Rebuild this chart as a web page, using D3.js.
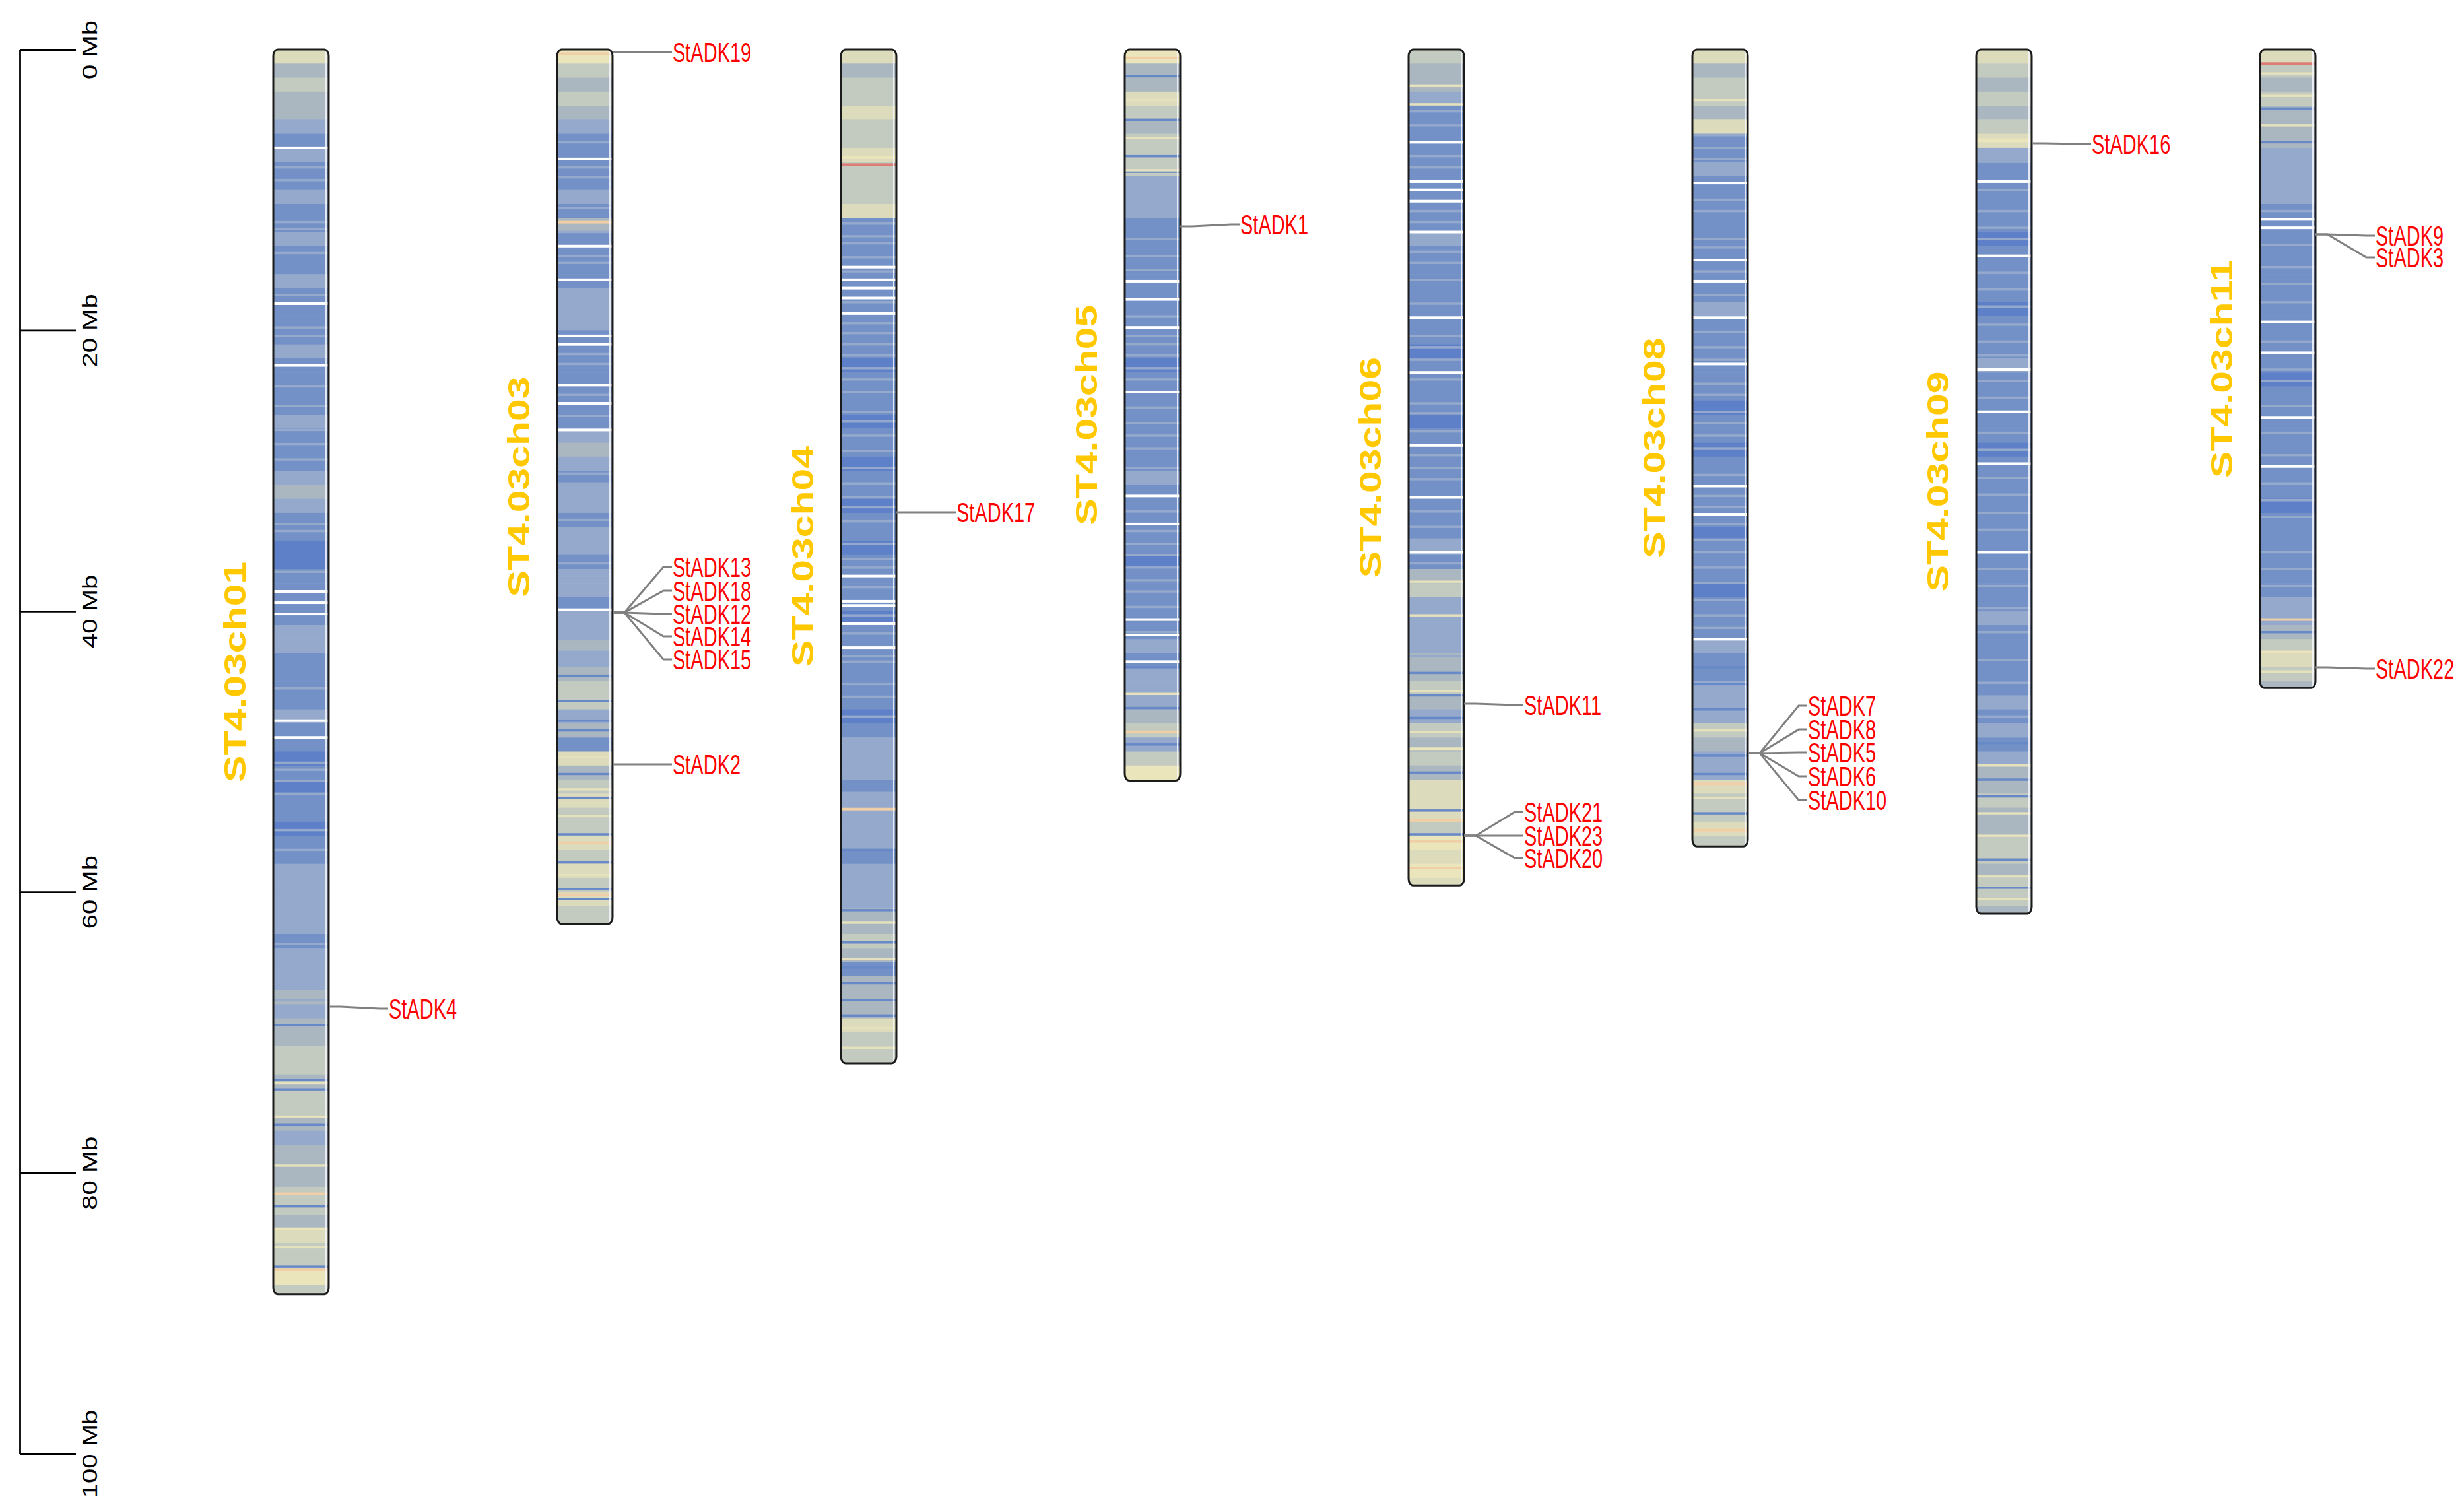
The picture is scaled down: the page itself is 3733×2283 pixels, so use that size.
<!DOCTYPE html>
<html><head><meta charset="utf-8">
<script src="https://cdn.jsdelivr.net/npm/d3@7"></script>
<style>html,body{margin:0;padding:0;background:#fff;overflow:hidden}</style>
</head><body><svg id="chart"></svg>
<script>
// ---------------- DATA ----------------
const chromNames   = ["ST4.03ch01","ST4.03ch03","ST4.03ch04","ST4.03ch05","ST4.03ch06","ST4.03ch08","ST4.03ch09","ST4.03ch11"];
const chromLengths = [88.66, 62.29, 72.21, 52.07, 59.53, 56.76, 61.54, 45.48]; // Mb
const axisTicks    = [0, 20, 40, 60, 80, 100]; // Mb

// gene density per 1 Mb bin (1 = low / blue ... 9 = high / red)
const density01 = [6,4,5,4,4,3,2,3,2,2,3,2,2,3,2,2,3,2,2,2,2,3,2,2,2,2,3,2,2,2,3,4,3,2,2,1,1,2,2,2,2,3,3,2,2,2,2,3,2,2,1,2,1,2,2,1,2,2,3,3,3,3,3,2,3,3,3,4,3,4,4,5,5,4,5,5,4,3,4,4,4,5,5,4,6,5,5,7,5];
const density03 = [7,5,4,5,4,3,2,2,2,2,3,2,4,2,2,2,2,3,3,3,2,2,2,2,2,2,2,3,4,3,2,3,3,2,3,3,2,3,3,2,3,3,4,3,4,5,5,3,4,2,6,4,5,6,5,5,6,5,6,5,6,5,5];
const density04 = [6,4,5,5,6,5,5,6,5,5,5,6,2,2,2,2,2,2,2,2,2,2,1,2,2,2,1,2,2,1,2,2,1,2,2,1,2,2,2,2,1,2,2,2,2,2,2,1,2,3,3,3,2,3,3,3,3,2,3,3,3,4,4,5,4,2,4,4,4,6,5,5,5];
const density05 = [7,4,4,6,5,4,5,5,5,3,3,3,2,2,2,2,2,2,2,2,2,2,1,2,2,2,2,2,2,2,3,2,2,2,2,2,1,2,2,2,2,2,3,2,3,3,3,4,5,3,5,7,7];
const density06 = [5,4,4,3,2,2,2,2,2,2,2,2,2,3,2,2,2,2,2,2,2,1,2,2,2,2,1,2,2,2,2,2,2,2,2,3,2,4,5,3,3,3,3,4,4,5,4,3,5,4,5,4,6,6,6,5,7,6,7,6];
const density08 = [6,4,5,5,4,6,2,2,3,2,2,2,2,2,2,2,2,2,3,2,2,2,2,2,2,1,2,2,1,2,2,2,2,2,1,2,2,2,1,2,2,2,3,2,2,3,3,3,5,4,3,3,6,5,5,6,5];
const density09 = [6,5,4,5,4,5,6,3,2,2,2,2,2,1,2,2,2,2,1,2,2,2,3,2,2,2,2,2,1,2,2,2,2,2,2,2,2,2,2,2,3,2,2,2,2,2,3,2,3,2,3,4,4,5,4,4,5,5,4,5,5,4];
const density11 = [6,5,4,5,4,4,4,3,3,3,3,2,2,2,2,2,2,2,2,2,2,2,2,1,2,2,2,2,2,2,2,2,1,2,2,2,2,2,2,3,3,4,5,6,5,4];
const densityBins = [density01, density03, density04, density05, density06, density08, density09, density11];

// thin sub-bin stripes (Mb)
const lightStripes = [
  [8.4,9.3,10.5,12.3,12.8,14.5,16.1,17.5,19.8,20.4,21.8,24.0,25.4,26.2,27.1,28.1,29.2,30.2,32.3,33.8,34.3,37.2,41.5,42.4,45.5,50.8,51.3,52.1,53.0,55.6,57.0,58.5,59.9,61.5,62.6,63.7,64.5,65.4,66.5,67.7],
  [5.8,6.6,8.4,9.1,10.4,11.3,13.0,14.7,15.2,17.1,17.8,19.0,19.5,21.7,22.4,24.6,26.1,29.2,30.2,30.9,32.3,33.5,34.6,35.6,36.6,37.6,38.6,41.2,42.0,42.9],
  [12.4,13.3,13.8,14.8,15.8,18.0,19.5,20.2,21.0,21.8,22.7,23.5,24.4,25.8,26.5,27.5,28.6,29.8,30.9,31.9,32.6,33.6,35.2,36.3,36.9,38.3,40.3,41.6,43.2,43.6,45.2,46.1,47.5,49.2,50.4,51.7,52.95,55.0,55.9,56.7,58.5,59.3,60.5,61.1],
  [9.3,10.1,11.0,11.5,13.5,14.7,15.7,19.0,20.4,21.0,21.8,22.7,23.5,25.5,26.6,27.5,28.4,29.8,30.6,32.9,34.3,35.2,36.0,36.9,37.8,38.6,39.7,41.5,42.6],
  [4.4,5.4,7.6,8.4,11.5,12.3,14.4,15.2,16.4,18.1,20.4,21.2,22.1,23.5,25.2,25.9,27.2,28.9,29.8,30.6,32.9,34.0,34.9,36.6,41.2,42.3,43.2],
  [6.1,7.0,7.8,8.7,10.7,11.5,13.5,14.1,15.8,17.5,18.4,20.1,21.2,22.1,23.8,24.6,25.8,26.6,27.5,28.4,30.3,31.8,32.6,33.8,34.9,35.8,36.9,38.0,39.2,40.3,41.2,42.9],
  [8.0,10.0,11.5,12.7,13.5,15.9,17.1,18.3,19.6,20.8,21.8,23.6,24.8,27.3,28.5,30.5,31.7,33.0,34.2,37.0,38.2,39.8,41.5,43.5,45.1,46.3,47.5],
  [11.5,13.9,15.5,16.7,18.0,20.8,22.8,23.6,25.4,27.3,28.9,30.9,32.1,33.3,35.8,37.0,38.2,39.4]
];
const darkStripes = [
  [69.5,73.4,74.1,76.6,82.4,86.7],
  [44.6,46.4,47.8,48.5,51.6,53.3,55.9,57.9,59.8,60.5],
  [57.0,61.3,63.6,65.4,66.5,67.7,68.8],
  [1.9,5.0,7.6,8.7,44.0,46.9,49.5],
  [44.4,46.0,47.6,51.5,54.2,55.9],
  [44.0,45.2,47.0,50.3,51.6,54.4],
  [49.4,52.0,53.2,57.7,59.7],
  [4.2,6.6,41.5]
];
const paleStripes = [
  [73.6,76.0,79.5,85.3],
  [50.4,52.7,54.6,58.8],
  [62.2,64.8,69.7,71.1],
  [3.6,6.3,8.6,45.9],
  [2.6,3.9,37.9,40.3,45.7,48.6],
  [3.6,48.5,53.3],
  [6.4,51.0,54.4,56.0,58.9,60.5],
  [1.7,3.3,5.4,44.3]
];
// thin empty (white) bins, Mb
const emptyLines = [
  [7.0,18.1,22.5,38.6,39.4,40.2,47.8,49.0],
  [7.8,14.0,16.4,20.4,21.0,23.9,25.2,27.1,39.9],
  [15.5,16.4,17.0,17.7,18.8,37.5,39.3,39.6,40.9,42.6],
  [16.5,17.8,19.8,24.4,31.8,33.8,40.6,41.7,43.6],
  [6.6,9.4,10.0,10.8,13.0,19.1,23.0,28.2,31.9,35.8],
  [9.5,15.0,16.5,19.1,22.4,31.1,33.1,42.0],
  [9.4,14.7,22.8,25.8,29.5,35.8],
  [12.1,12.7,19.4,21.6,26.2,29.7]
];
// thin high-density bins [Mb, level]
const hotLines = [
  [[81.5,8],[84.0,7],[86.9,8]],
  [[0.3,8],[12.3,8],[56.5,8],[60.2,8]],
  [[7.7,7],[8.2,9],[54.1,8]],
  [[0.6,8],[48.6,8]],
  [[49.8,7],[54.9,8],[56.4,8],[58.3,8]],
  [[52.3,8],[55.6,8]],
  [[6.5,7]],
  [[1.0,9],[40.6,8],[42.9,7]]
];

// genes
const geneNames    = ["StADK4","StADK19","StADK13","StADK18","StADK12","StADK14","StADK15","StADK2","StADK17","StADK1","StADK11","StADK21","StADK23","StADK20","StADK7","StADK8","StADK5","StADK6","StADK10","StADK16","StADK9","StADK3","StADK22"];
const geneChroms   = ["ST4.03ch01","ST4.03ch03","ST4.03ch03","ST4.03ch03","ST4.03ch03","ST4.03ch03","ST4.03ch03","ST4.03ch03","ST4.03ch04","ST4.03ch05","ST4.03ch06","ST4.03ch06","ST4.03ch06","ST4.03ch06","ST4.03ch08","ST4.03ch08","ST4.03ch08","ST4.03ch08","ST4.03ch08","ST4.03ch09","ST4.03ch11","ST4.03ch11","ST4.03ch11"];
const genePos      = [68.17,0.19,40.1,40.1,40.1,40.1,40.1,50.92,32.96,12.6,46.59,56.0,56.0,56.0,50.12,50.12,50.12,50.12,50.12,6.68,13.16,13.16,44.0];
const geneLabelPos = [68.31,0.19,36.86,38.55,40.2,41.8,43.44,50.92,32.96,12.46,46.69,54.3,56.0,57.59,46.73,48.43,50.07,51.76,53.46,6.72,13.26,14.81,44.1];

const densityColors = ["#5d80c9","#7391c7","#94a9cc","#aab6c0","#c3cabf","#dcdcbd","#ebe5bb","#f0cfa6","#dc7c74"];

// ---------------- DRAW ----------------
const W = 3733, H = 2283;
const svg = d3.select("#chart").attr("width", W).attr("height", H)
  .style("font-family", "'Liberation Sans', Arial, sans-serif");
svg.append("rect").attr("width", W).attr("height", H).attr("fill", "#fff");

const y = d3.scaleLinear().domain([0, 100]).range([75, 2202]);
const x = d3.scaleBand().domain(chromNames).range([414, 3508]).paddingInner(0.8047).paddingOuter(0);
const bw = x.bandwidth();
const color = d3.scaleLinear().domain(d3.range(1, 10)).range(densityColors).clamp(true);
const fillOf = v => v === 0 ? "#ffffff" : color(v);

// axis
const axis = d3.axisRight(y).tickValues(axisTicks).tickSize(85).tickSizeOuter(0).tickFormat(d => d + " Mb");
const ag = svg.append("g").attr("transform", "translate(30,0)").call(axis);
ag.select(".domain").attr("stroke", "#000").attr("stroke-width", 2.8);
ag.selectAll(".tick line").attr("stroke", "#000").attr("stroke-width", 2.8);
ag.selectAll(".tick text")
  .attr("x", null)
  .attr("transform", "translate(106,0) scale(1,1.25) rotate(-90)")
  .attr("text-anchor", "middle").attr("dy", "0.358em")
  .attr("fill", "#000").attr("font-size", 32)
  .attr("font-family", "'Liberation Sans', Arial, sans-serif");

// chromosomes
const defs = svg.append("defs");
chromNames.forEach((name, i) => {
  const len = chromLengths[i];
  const g = svg.append("g").attr("transform", `translate(${x(name)},0)`);
  const top = y(0), bot = y(len);
  const cid = "clip" + i;
  defs.append("clipPath").attr("id", cid).append("rect")
    .attr("x", 0).attr("y", top).attr("width", bw).attr("height", bot - top).attr("rx", 7).attr("ry", 10);
  const cg = g.append("g").attr("clip-path", `url(#${cid})`);
  cg.selectAll("rect.bin").data(densityBins[i]).join("rect").attr("class", "bin")
    .attr("x", 0).attr("width", bw)
    .attr("y", (d, j) => y(j))
    .attr("height", (d, j) => y(Math.min(j + 1, len)) - y(j) + 0.6)
    .attr("fill", d => fillOf(d));
  const stripe = (cls, data, pos, lev, h) =>
    cg.selectAll("rect." + cls).data(data).join("rect").attr("class", cls)
      .attr("x", 0).attr("width", bw)
      .attr("y", d => y(pos(d)) - h / 2).attr("height", h)
      .attr("fill", d => fillOf(lev(d)));
  stripe("light", lightStripes[i], d => d, d => 3, 3.5);
  stripe("dark", darkStripes[i], d => d, d => 1.5, 3.5);
  stripe("pale", paleStripes[i], d => d, d => 6.5, 3.5);
  stripe("hot", hotLines[i], d => d[0], d => d[1], 4);
  stripe("empty", emptyLines[i], d => d, d => 0, 4);
  // thin inner light edge on right
  cg.append("rect").attr("x", bw - 5).attr("y", top).attr("width", 2).attr("height", bot - top).attr("fill", "#f4f6fa").attr("opacity", 0.85);
  g.append("rect").attr("x", 0).attr("y", top).attr("width", bw).attr("height", bot - top)
    .attr("rx", 7).attr("ry", 10).attr("fill", "none").attr("stroke", "#1b1b1b").attr("stroke-width", 3);

  // chromosome name
  g.append("text")
    .attr("transform", `translate(-58,${(top + bot) / 2}) scale(1,1.32) rotate(-90)`)
    .attr("text-anchor", "middle").attr("dy", "0.358em")
    .attr("font-size", 46).attr("font-weight", "bold").attr("fill", "#FFC800")
    .text(name);
});

// genes
const line = d3.line();
geneNames.forEach((gname, k) => {
  const cx = x(geneChroms[k]) + bw;
  const gy = y(genePos[k]), ly = y(geneLabelPos[k]);
  svg.append("path")
    .attr("d", line([[cx, gy], [cx + 18, gy], [cx + 77, ly], [cx + 90, ly]]))
    .attr("fill", "none").attr("stroke", "#808080").attr("stroke-width", 3);
  svg.append("text")
    .attr("transform", `translate(${cx + 91},${ly}) scale(1,1.45)`)
    .attr("dy", "0.358em").attr("font-size", 29).attr("fill", "#FF0000")
    .text(gname);
});
</script></body></html>
